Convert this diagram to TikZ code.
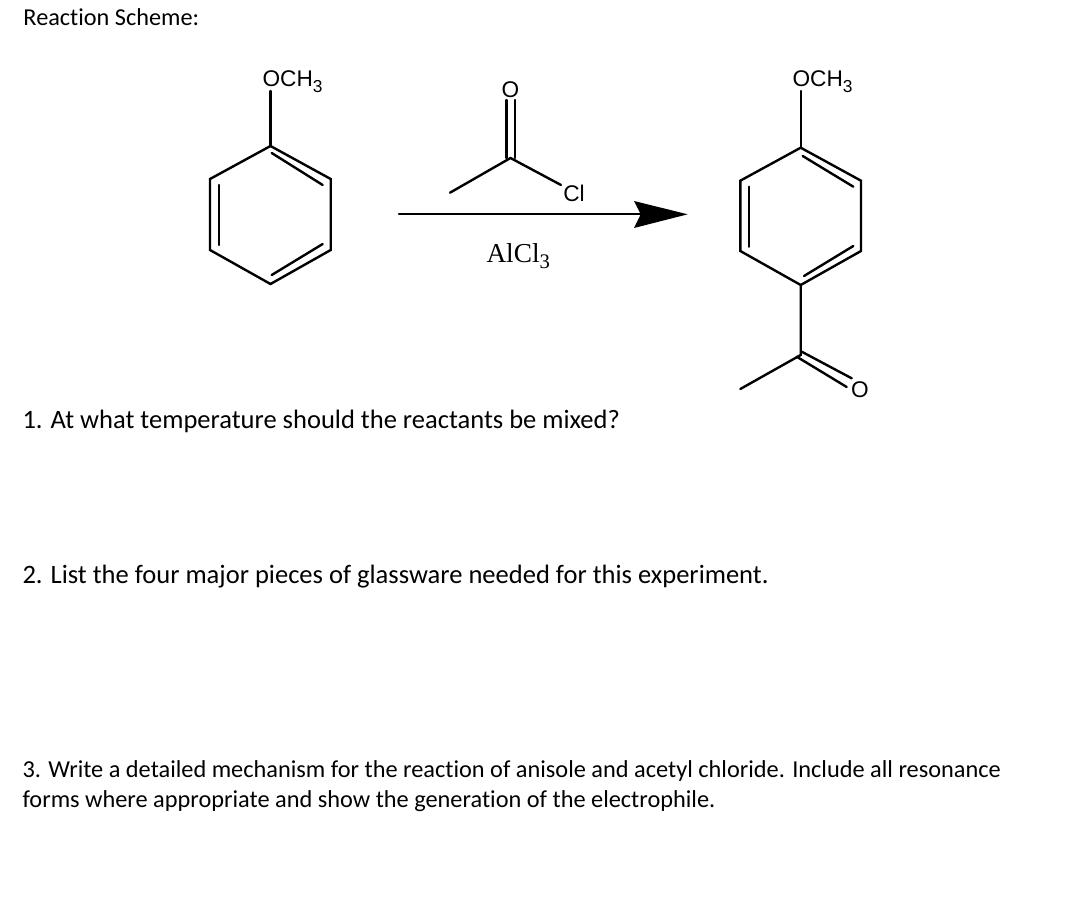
\documentclass[tikz,border=0pt]{standalone}
\usepackage{fontspec}
\setmainfont{Carlito}[RawFeature={-liga}]
\newfontfamily\chemfont{Liberation Sans}
\newfontfamily\reagentfont{Liberation Serif}
\newcommand{\chemsub}[1]{\raisebox{-0.28em}{\fontsize{13}{13}\selectfont #1}}
\tikzset{
	every picture/.style={line width=0.75pt},
	bond/.style={line width=1.8pt,line cap=round,color=black},
	atom/.style={inner sep=0pt,font=\chemfont\fontsize{17}{17}\selectfont},
	reagent/.style={inner sep=0pt,font=\reagentfont\fontsize{20.5}{20.5}\selectfont},
	title/.style={anchor=base west,inner sep=0pt,font=\fontsize{18.2}{18.2}\selectfont},
	question/.style={anchor=base west,inner sep=0pt,font=\fontsize{19.9}{19.9}\selectfont},
	smallquestion/.style={anchor=base west,inner sep=0pt,font=\fontsize{18.25}{18.25}\selectfont}
}

\begin{document}
\begin{tikzpicture}[x=0.75pt,y=0.75pt,yscale=-1,xscale=1]
	\useasboundingbox (0,0) rectangle (1077,899);
	% anisole
	\coordinate (aT) at (270.5,146);
	\coordinate (aUR) at (330.7,179);
	\coordinate (aLR) at (330.7,250);
	\coordinate (aB) at (270.5,284);
	\coordinate (aLL) at (210,250);
	\coordinate (aUL) at (210,179);
	\coordinate (aOe) at (270.5,91);
	\coordinate (ai1) at (271.7,153);
	\coordinate (ai2) at (322.7,185);
	\coordinate (ai3) at (219,185);
	\coordinate (ai4) at (219,245);
	\coordinate (ai5) at (271.7,275);
	\coordinate (ai6) at (322.7,244);
	\draw [bond] (aT) -- (aUR) -- (aLR) -- (aB) -- (aLL) -- (aUL) -- cycle;
	\draw [bond] (aT) -- (aOe);
	\draw [bond] (ai1) -- (ai2);
	\draw [bond] (ai3) -- (ai4);
	\draw [bond] (ai5) -- (ai6);
	\node (aOCH) [atom,anchor=base west] at (262,86) {OCH\chemsub{3}};

	% acetyl chloride
	\coordinate (cC) at (510.5,158);
	\coordinate (cMe) at (450,192.7);
	\coordinate (cCle) at (561,185);
	\coordinate (cO1a) at (506.5,158);
	\coordinate (cO1b) at (506.5,100);
	\coordinate (cO2a) at (515,158);
	\coordinate (cO2b) at (515,100);
	\draw [bond] (cMe) -- (cC) -- (cCle);
	\draw [bond] (cO1a) -- (cO1b);
	\draw [bond] (cO2a) -- (cO2b);
	\node (cO) [atom] at (510.5,90) {O};
	\node (cCl) [atom] at (574,193) {Cl};

	% arrow
	\coordinate (arS) at (399,214);
	\coordinate (arE) at (642,214);
	\coordinate (arTip) at (687.7,214.3);
	\coordinate (arTop) at (634,201);
	\coordinate (arNotch) at (640.7,214.3);
	\coordinate (arBot) at (634,228);
	\draw [bond] (arS) -- (arE);
	\fill [black] (arTip) -- (arTop) -- (arNotch) -- (arBot) -- cycle;
	\node (rAl) [reagent,anchor=base west] at (486,262) {AlCl\raisebox{-0.25em}{\fontsize{15.5}{15.5}\selectfont 3}};

	% product
	\coordinate (pT) at (800.7,147.7);
	\coordinate (pUR) at (861,180.7);
	\coordinate (pLR) at (861,251);
	\coordinate (pB) at (800.7,285);
	\coordinate (pLL) at (740.3,251);
	\coordinate (pUL) at (740.3,180.7);
	\coordinate (pOe) at (800.7,91);
	\coordinate (pC) at (800.7,355);
	\coordinate (pMe) at (740.3,389);
	\coordinate (pi1) at (802.7,156);
	\coordinate (pi2) at (853.3,186.7);
	\coordinate (pi3) at (749,186.7);
	\coordinate (pi4) at (749,246.7);
	\coordinate (pi5) at (804,276);
	\coordinate (pi6) at (853.3,246);
	\coordinate (pO1a) at (796.7,356.7);
	\coordinate (pO1b) at (846.7,387);
	\coordinate (pO2a) at (801.7,351.7);
	\coordinate (pO2b) at (851.7,378.3);
	\draw [bond] (pT) -- (pUR) -- (pLR) -- (pB) -- (pLL) -- (pUL) -- cycle;
	\draw [bond] (pT) -- (pOe);
	\draw [bond] (pB) -- (pC) -- (pMe);
	\draw [bond] (pi1) -- (pi2);
	\draw [bond] (pi3) -- (pi4);
	\draw [bond] (pi5) -- (pi6);
	\draw [bond] (pO1a) -- (pO1b);
	\draw [bond] (pO2a) -- (pO2b);
	\node (pOCH) [atom,anchor=base west] at (792,86) {OCH\chemsub{3}};
	\node (pO) [atom] at (860,390) {O};

	% text
	\node (head) [title] at (23,26) {Reaction Scheme:};
	\node (q1) [question] at (22,428) {1. At what temperature should the reactants be mixed?};
	\node (q2) [question] at (22,583) {2. List the four major pieces of glassware needed for this experiment.};
	\node (q3a) [smallquestion] at (22,777) {3. Write a detailed mechanism for the reaction of anisole and acetyl chloride. Include all resonance};
	\node (q3b) [smallquestion] at (22,807) {forms where appropriate and show the generation of the electrophile.};
\end{tikzpicture}
\end{document}
